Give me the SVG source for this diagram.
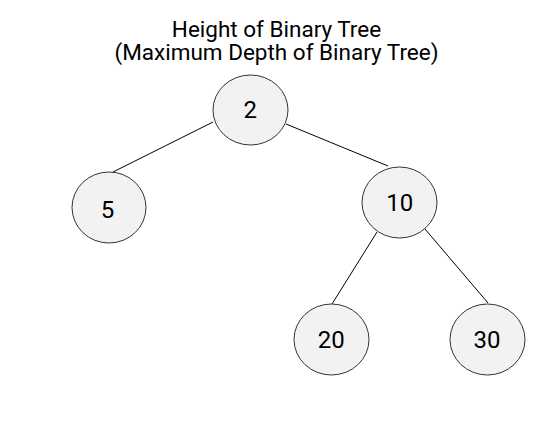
<svg xmlns="http://www.w3.org/2000/svg" width="554" height="421" viewBox="0 0 554 421">
<style>
.node ellipse{fill:#f2f2f2;stroke:#333;stroke-width:1}
.node text{font-family:Roboto,"Liberation Sans",sans-serif;font-size:24px;fill:#000;text-anchor:middle}
.edge line{stroke:#000;stroke-width:1}
.title{font-family:Roboto,"Liberation Sans",sans-serif;font-size:22.5px;fill:#000;text-anchor:middle}
</style>
<rect width="554" height="421" fill="#fff"/>
<g id="title">
<text class="title" x="276.5" y="37">Height of Binary Tree</text>
<text class="title" x="276.5" y="60">(Maximum Depth of Binary Tree)</text>
</g>
<g id="connectors" class="edge">
<line x1="213" y1="122" x2="113" y2="172"/>
<line x1="286" y1="124" x2="388" y2="166"/>
<line x1="377" y1="232" x2="332" y2="304"/>
<line x1="425" y1="229" x2="488" y2="303"/>
</g>
<g id="node-2" class="node"><ellipse cx="250.5" cy="110" rx="37.5" ry="35"/><text x="250.3" y="118">2</text></g>
<g id="node-5" class="node"><ellipse cx="109" cy="207.5" rx="37" ry="35.5"/><text x="107.5" y="218.3">5</text></g>
<g id="node-10" class="node"><ellipse cx="399.5" cy="202.5" rx="37.5" ry="35.5"/><text x="399.8" y="211">10</text></g>
<g id="node-20" class="node"><ellipse cx="331.5" cy="339.5" rx="37.5" ry="35.5"/><text x="331.2" y="348.3">20</text></g>
<g id="node-30" class="node"><ellipse cx="487.5" cy="339.5" rx="37.5" ry="35.5"/><text x="487" y="348.3">30</text></g>
</svg>
